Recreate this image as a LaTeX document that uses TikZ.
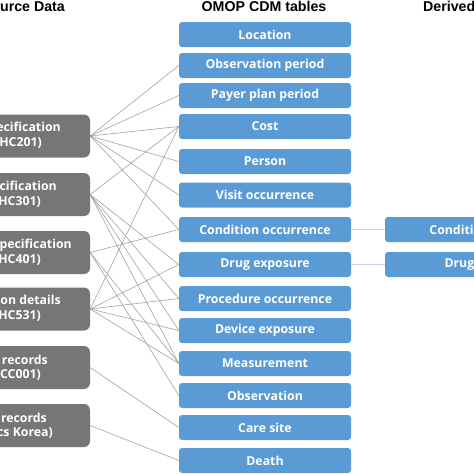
\documentclass[tikz,border=0pt]{standalone}
\usepackage{fontspec}
\setmainfont{Open Sans}
\newfontfamily\headfont{Liberation Sans}
\definecolor{cdmblue}{HTML}{5B9BD5}
\definecolor{srcgray}{HTML}{767676}
\definecolor{linkgray}{HTML}{9C9C9C}
\definecolor{drvlink}{HTML}{C3D3E5}
\begin{document}
\begin{tikzpicture}[x=1pt, y=-1pt, every node/.style={inner sep=0pt, text=white, font=\bfseries\fontsize{12.3}{14}\selectfont},
	cdm/.style={fill=cdmblue, rounded corners=3pt, minimum width=172pt, minimum height=25pt},
	src/.style={fill=srcgray, rounded corners=6pt, minimum width=180pt, minimum height=43pt},
	head/.style={text=black, font=\headfont\bfseries\fontsize{14.2}{16}\selectfont},
	link/.style={linkgray, line width=0.55pt},
	drvline/.style={drvlink, line width=1pt}]
	\useasboundingbox (0,0) rectangle (474,474);
	\clip (0,0) rectangle (474,474);
	\fill[white] (0,0) rectangle (474,474);
	% column titles
	\node[head, anchor=east] (srchead) at (65,6.5) {Source Data};
	\node[head] (cdmhead) at (264,6.5) {OMOP CDM tables};
	\node[head, anchor=west] (drvhead) at (423,6.5) {Derived tables};
	% OMOP CDM tables
	\foreach \n/\l/\y in {loc/Location/34.5, obsp/Observation period/65.5, payer/Payer plan period/95.5,
		cost/Cost/126.5, person/Person/161.5, visit/Visit occurrence/195, cond/Condition occurrence/229.5,
		drug/Drug exposure/264.5, proc/Procedure occurrence/298.5, device/Device exposure/330.5,
		meas/Measurement/363.5, obs/Observation/395.5, care/Care site/427.5, death/Death/460.5}
	{
		\node[cdm] (\n) at (265,\y) {\l};
	}
	% source data
	\foreach \n/\y/\a/\xa/\b/\xb in {src1/136/General specification/61/{(NHC201)}/42,
		src2/194.5/Treatment specification/57/{(NHC301)}/41,
		src3/252.5/Diagnosis specification/72/{(NHC401)}/41,
		src4/309/Prescription details/61/{(NHC531)}/41,
		src5/367.5/Care institution records/48/{(NCC001)}/41,
		src6/425.5/Death records/47/{(Statistics Korea)}/53}
	{
		\node[src] (\n) at (0,\y) {};
		\node[anchor=east] (\n-a) at (\xa,\y-7.5) {\a};
		\node[anchor=east] (\n-b) at (\xb,\y+7.5) {\b};
	}
	% derived tables
	\node[cdm] (condera) at (471,229.5) {Condition era};
	\node[cdm] (drugera) at (471,264.5) {Drug era};
	\draw[drvline] (cond) -- (condera);
	\draw[drvline] (drug) -- (drugera);
	% mapping
	\foreach \s/\t in {src1/obsp, src1/payer, src1/cost, src1/person, src1/visit, src1/cond,
		src2/cost, src2/drug, src2/proc, src2/device, src2/meas,
		src3/cond, src3/meas, src3/obs,
		src4/cost, src4/drug, src4/proc, src4/device, src4/meas,
		src5/care, src6/death}
	{
		\draw[link] (\s.east) -- (\t.west);
	}
\end{tikzpicture}
\end{document}
